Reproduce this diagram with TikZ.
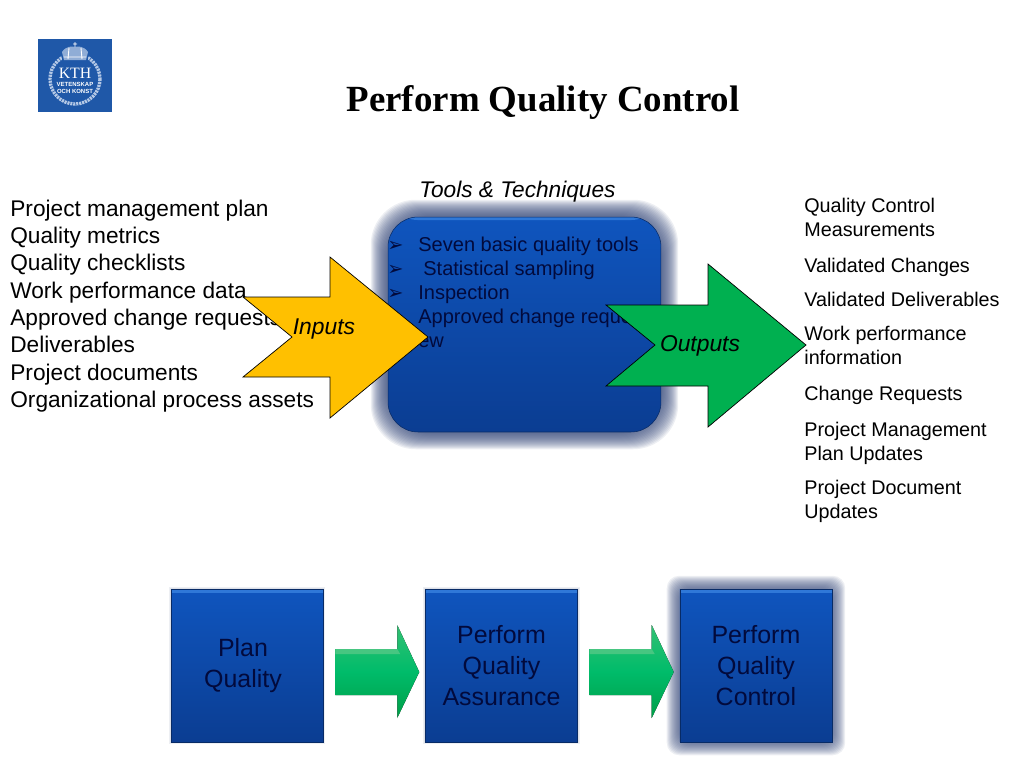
\documentclass[tikz,border=0pt]{standalone}
\usepackage{fontspec}
\setmainfont{Liberation Sans}
\newfontfamily\serifbold[BoldFont={Liberation Serif Bold}]{Liberation Serif}
\newfontfamily\bulletfont{DejaVu Sans}
\usepackage{tikz}
\usetikzlibrary{positioning,backgrounds,calc}

\definecolor{boxtop}{HTML}{0F55BE}
\definecolor{boxbot}{HTML}{0B3D92}
\definecolor{bevellight}{HTML}{2F78D8}
\definecolor{glowcol}{HTML}{3A4C7C}
\definecolor{boxtext}{HTML}{020A3C}
\definecolor{inputyellow}{HTML}{FFC000}
\definecolor{outputgreen}{HTML}{00B050}
\definecolor{logoblue}{HTML}{1F58A8}
\definecolor{logopale}{HTML}{B5C9E6}

\tikzset{
    listline/.style={anchor=base west, inner sep=0pt, text=black},
    boxline/.style={anchor=base west, inner sep=0pt, text=boxtext,
        font=\fontsize{11.4pt}{13.6pt}\selectfont},
    stagebox/.style={rectangle,
        top color=boxtop, bottom color=boxbot,
        minimum width=3.04cm, minimum height=3.06cm,
        inner sep=0pt, align=center, text=boxtext,
        font=\fontsize{14.2pt}{17.5pt}\selectfont,
        draw=boxbot!70!black, line width=0.3pt,
        path picture={\fill[bevellight]
            (path picture bounding box.north west) rectangle
            ([yshift=-0.08cm]path picture bounding box.north east);}},
    blockarrow/.style={draw=black, line width=0.4pt, line join=miter},
    greenarrow/.pic={
        \fill[top color=outputgreen!80!white, bottom color=outputgreen!90!black,
            middle color=outputgreen!85!cyan]
            (0,-23) -- (62,-23) -- (62,-47) -- (84,0) -- (62,46) -- (62,23)
            -- (0,23) -- cycle;
        \fill[outputgreen!72!white] (0,-23) -- (62,-23) -- (65,-18) -- (0,-18) -- cycle;
    }
}

% soft halo behind a box
\newcommand{\halo}[3]{
    \begin{pgfonlayer}{background}
    \foreach \g in {#2,...,1}
        \fill[glowcol, opacity=0.09, rounded corners=#3]
            ([shift={(-\g*0.02cm,\g*0.02cm)}]#1.north west) rectangle
            ([shift={(\g*0.02cm,-\g*0.02cm)}]#1.south east);
    \end{pgfonlayer}
}

\begin{document}
\begin{tikzpicture}[x=0.02cm,y=-0.02cm]
    \useasboundingbox (0,0) rectangle (1024,768);

    % Logo
    \node[fill=logoblue, minimum width=1.48cm, minimum height=1.48cm, inner sep=0pt]
        (logo) at (75,75.5) {};
    \draw[logopale, line width=1.9pt, dash pattern=on 1.2pt off 0.5pt]
        (75,79) circle (25);
    \fill[logoblue] (62,44) rectangle (88,60);
    \fill[logopale!75!logoblue] (64,60) -- (62,52) .. controls (66,46) and (72,46) .. (75,47)
        .. controls (78,46) and (84,46) .. (88,52) -- (86,60) -- cycle;
    \draw[white, line width=0.5pt] (75,47) -- (75,42) (73,44) -- (77,44)
        (69,48) -- (68,59) (81,48) -- (82,59) (64,57) -- (86,57);
    \node[inner sep=0pt, text=white, font=\serifbold\fontsize{9pt}{9pt}\selectfont] (logokth)
        at (75,73) {KTH};
    \node[inner sep=0pt, text=white, font=\bfseries\fontsize{3.4pt}{3.4pt}\selectfont, below=0.07cm of logokth]
        (logotxt) {VETENSKAP};
    \node[inner sep=0pt, text=white, font=\bfseries\fontsize{3.4pt}{3.4pt}\selectfont, below=0.05cm of logotxt]
        (logotxtb) {OCH KONST};

    % Title
    \node[anchor=base, inner sep=0pt, font=\serifbold\bfseries\fontsize{21pt}{24pt}\selectfont]
        (title) at (543,111) {Perform Quality Control};

    % Inputs list
    \foreach \i/\line in {0/Project management plan, 1/Quality metrics, 2/Quality checklists,
        3/Work performance data, 4/Approved change requests, 5/Deliverables,
        6/Project documents, 7/Organizational process assets}
        \node[listline, font=\fontsize{12.9pt}{15pt}\selectfont]
            (in\i) at (10,216+\i*27.35) {\line};

    % Tools box
    \node[anchor=base west, inner sep=0pt, font=\itshape\fontsize{12.9pt}{15pt}\selectfont]
        (tools) at (419,197) {Tools \& Techniques};
    \node[rectangle, rounded corners=0.6cm,
        top color=boxtop, bottom color=boxbot,
        draw=boxbot!70!black, line width=0.3pt,
        minimum width=5.46cm, minimum height=4.3cm,
        path picture={\fill[bevellight]
            (path picture bounding box.north west) rectangle
            ([yshift=-0.06cm]path picture bounding box.north east);}
        ] (toolsbox) at (524.5,324.5) {};
    \halo{toolsbox}{17}{0.9cm}

    \foreach \y/\line [count=\i] in {251/Seven basic quality tools, 299/Inspection,
        323/Approved change requests, 347/{\hspace{0pt}ew}}
        \node[boxline] (tool\i) at (418,\y) {\line};
    \node[boxline] (toolb) at (423,275) {Statistical sampling};
    \foreach \y [count=\i] in {251,275,299}
        \node[boxline, font=\bulletfont\fontsize{11pt}{12pt}\selectfont]
            (bullet\i) at (387,\y) {➢};

    % Inputs arrow
    \draw[blockarrow, fill=inputyellow] (292,337) -- (243,297) -- (330,297) -- (330,257)
        -- (428,337) -- (330,418) -- (330,377) -- (243,377) -- cycle;
    \node[font=\itshape\fontsize{13pt}{14pt}\selectfont, inner sep=0pt] (inputs) at (324,329) {Inputs};

    % Outputs arrow
    \draw[blockarrow, fill=outputgreen] (655,345) -- (606,305) -- (708,305) -- (708,264)
        -- (806,345) -- (708,427) -- (708,386) -- (606,386) -- cycle;
    \node[font=\itshape\fontsize{13pt}{14pt}\selectfont, inner sep=0pt] (outputs) at (700,346) {Outputs};

    % Outputs list
    \foreach \y/\line [count=\i] in {212/Quality Control, 236/Measurements, 272/Validated Changes,
        306/Validated Deliverables, 340/Work performance, 364/information, 400/Change Requests,
        436/Project Management, 460/Plan Updates, 494/Project Document, 518/Updates}
        \node[listline, font=\fontsize{11.25pt}{13pt}\selectfont] (out\i) at (804,\y) {\line};

    % Process stages
    \node[stagebox] (plan) at (247,665.5) {Plan\hspace*{0.16cm}\\Quality\hspace*{0.16cm}};
    \node[stagebox, right=2.04cm of plan] (assurance) {Perform\\Quality\\Assurance};
    \node[stagebox, right=2.04cm of assurance] (control) {Perform\\Quality\\Control};
    \halo{plan}{2}{0cm}
    \halo{assurance}{2}{0cm}
    \halo{control}{13}{0.25cm}

    \pic at ([xshift=0.24cm,yshift=-0.13cm]plan.east) {greenarrow};
    \pic at ([xshift=0.24cm,yshift=-0.13cm]assurance.east) {greenarrow};
\end{tikzpicture}
\end{document}
